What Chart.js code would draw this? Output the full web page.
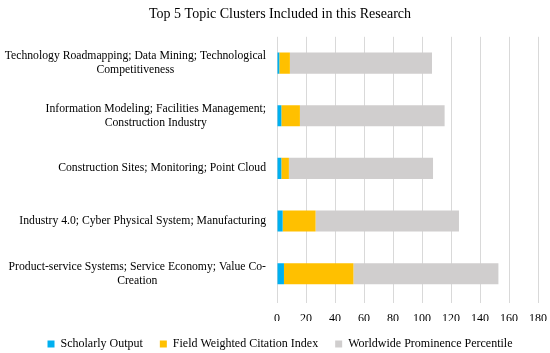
<!DOCTYPE html>
<html lang="en">
<head>
    <meta charset="UTF-8">
    <title>Top 5 Topic Clusters</title>
    <script src="https://cdn.jsdelivr.net/npm/chart.js"></script>
    <style>
        body {
            margin: 0;
            padding: 0;
            background: #ffffff;
        }
        .wrap {
            width: 550px;
            height: 353px;
        }
    </style>
</head>
<body>
<div class="wrap"><canvas id="topicChart"></canvas></div>
<script>
    // data
    const topics = [
        ['Technology Roadmapping; Data Mining; Technological', 'Competitiveness'],
        ['Information Modeling; Facilities Management;', 'Construction Industry'],
        ['Construction Sites; Monitoring; Point Cloud'],
        ['Industry 4.0; Cyber Physical System; Manufacturing'],
        ['Product-service Systems; Service Economy; Value Co-', 'Creation']
    ];
    const scholarlyOutput = [1.6, 3.0, 3.0, 3.9, 4.8];
    const citationIndex = [7.3, 12.8, 5.2, 22.7, 47.9];
    const prominence = [98.0, 99.8, 99.4, 98.9, 100.0];
    const xTicks = [0, 20, 40, 60, 80, 100, 120, 140, 160, 180];

    const serif = "'Liberation Serif', serif";

    // vertical grid lines, a little past the bottom of the plot
    const gridLines = {
        id: 'gridLines',
        beforeDatasetsDraw(chart) {
            const ctx = chart.ctx;
            const xScale = chart.scales.x;
            const a = chart.chartArea;
            ctx.save();
            ctx.strokeStyle = '#d9d9d9';
            ctx.lineWidth = 1;
            xTicks.forEach(v => {
                const x = Math.round(xScale.getPixelForValue(v)) + 0.5;
                ctx.beginPath();
                ctx.moveTo(x, a.top);
                ctx.lineTo(x, a.bottom + 3);
                ctx.stroke();
            });
            ctx.restore();
        }
    };

    // category labels: block right aligned, lines centred inside the block
    const topicLabels = {
        id: 'topicLabels',
        afterDraw(chart) {
            const ctx = chart.ctx;
            const yScale = chart.scales.y;
            const right = chart.chartArea.left - 11;
            ctx.save();
            ctx.font = '11.7px ' + serif;
            ctx.fillStyle = '#000000';
            ctx.textAlign = 'center';
            ctx.textBaseline = 'middle';
            topics.forEach((lines, i) => {
                const yc = yScale.getPixelForValue(i);
                const w = Math.max(...lines.map(l => ctx.measureText(l).width));
                const xc = right - w / 2;
                const lh = 14;
                const y0 = yc - (lines.length - 1) * lh / 2;
                lines.forEach((l, j) => ctx.fillText(l, xc, y0 + j * lh));
            });
            ctx.restore();
        }
    };

    new Chart(document.getElementById('topicChart'), {
        type: 'bar',
        data: {
            labels: topics,
            datasets: [{
                label: 'Scholarly Output',
                data: scholarlyOutput,
                backgroundColor: '#00b0f0'
            }, {
                label: 'Field Weighted Citation Index',
                data: citationIndex,
                backgroundColor: '#ffc000'
            }, {
                label: 'Worldwide Prominence Percentile',
                data: prominence,
                backgroundColor: '#d0cece'
            }]
        },
        options: {
            indexAxis: 'y',
            responsive: true,
            maintainAspectRatio: false,
            animation: false,
            datasets: {
                bar: {
                    categoryPercentage: 0.4,
                    barPercentage: 1.0
                }
            },
            layout: {
                padding: { left: 22, right: 12, top: 0, bottom: 0 }
            },
            scales: {
                x: {
                    stacked: true,
                    min: 0,
                    max: 180,
                    afterBuildTicks: s => { s.ticks = xTicks.map(v => ({ value: v })); },
                    afterFit: s => { s.height = 21; s.paddingRight = 0; },
                    grid: { color: 'rgba(0,0,0,0)', drawTicks: false },
                    border: { display: false },
                    ticks: {
                        color: '#000000',
                        padding: 12,
                        font: { family: serif, size: 12 }
                    }
                },
                y: {
                    stacked: true,
                    grid: { display: false },
                    border: { display: false },
                    ticks: { display: false },
                    afterFit: s => { s.width = 255; }
                }
            },
            plugins: {
                title: {
                    display: true,
                    text: 'Top 5 Topic Clusters Included in this Research',
                    color: '#000000',
                    font: { family: serif, size: 14, weight: 'normal' },
                    padding: { top: 6, bottom: 14 }
                },
                legend: {
                    position: 'bottom',
                    maxHeight: 32,
                    labels: {
                        color: '#000000',
                        boxWidth: 7,
                        boxHeight: 7,
                        padding: 17,
                        font: { family: serif, size: 12 }
                    }
                },
                tooltip: { enabled: false }
            }
        },
        plugins: [gridLines, topicLabels]
    });
</script>
</body>
</html>
